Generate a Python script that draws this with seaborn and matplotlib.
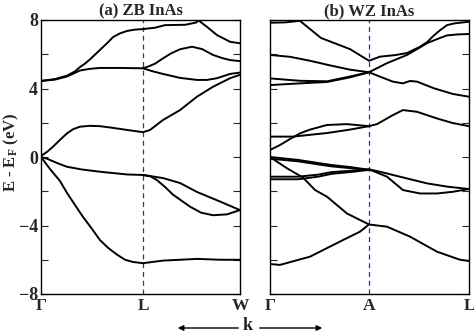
import numpy as np
import pandas as pd
import seaborn as sns
import matplotlib
matplotlib.use("Agg")
import matplotlib.pyplot as plt

sns.set_theme(style="ticks")
plt.rcParams['font.family'] = ['Liberation Serif', 'DejaVu Serif']
plt.rcParams['font.weight'] = 'bold'
plt.rcParams['mathtext.fontset'] = 'custom'
plt.rcParams['mathtext.rm'] = 'Liberation Serif:bold'
plt.rcParams['mathtext.it'] = 'Liberation Serif:bold'

# ---------------- data (k in path units, E in eV) ----------------
# ZB InAs: Gamma=0, L=1, W=1.951
zb_ticks = [0.0, 1.0, 1.951]
zb_labels = ['Γ', 'L', 'W']
zb_b1_k = [0, .137, .255, .333, .382, .431, .480, .578, .657, .706, .775, .843, .922, 1.0, 1.118, 1.216, 1.412, 1.520, 1.569, 1.667]
zb_b1_E = [4.44, 4.55, 4.75, 5.0, 5.25, 5.45, 5.7, 6.25, 6.7, 7.0, 7.22, 7.36, 7.44, 7.47, 7.55, 7.7, 7.72, 7.85, 8.1, 8.6]
zb_b2_k = [1.412, 1.539, 1.627, 1.725, 1.853, 1.951]
zb_b2_E = [8.6, 8.0, 7.6, 7.12, 6.73, 6.64]
zb_b3_k = [0, .137, .255, .382, .480, .578, .775, 1.0, 1.059, 1.118, 1.196, 1.275, 1.363, 1.480, 1.580, 1.686, 1.775, 1.853, 1.951]
zb_b3_E = [4.44, 4.52, 4.7, 5.05, 5.15, 5.2, 5.2, 5.18, 5.3, 5.45, 5.76, 6.05, 6.29, 6.44, 6.3, 5.96, 5.78, 5.66, 5.6]
zb_b4_k = [1.0, 1.098, 1.196, 1.363, 1.529, 1.627, 1.725, 1.853, 1.951]
zb_b4_E = [5.18, 5.0, 4.85, 4.62, 4.5, 4.5, 4.6, 4.85, 4.93]
zb_b5_k = [0, .059, .118, .186, .255, .314, .382, .480, .578, .706, .843, 1.0, 1.069, 1.196, 1.363, 1.529, 1.686, 1.853, 1.951]
zb_b5_E = [0.06, 0.3, 0.6, 1.0, 1.38, 1.62, 1.77, 1.82, 1.8, 1.7, 1.58, 1.45, 1.58, 2.16, 2.74, 3.52, 4.1, 4.6, 4.8]
zb_b6_k = [0, .059, .118, .186, .255, .402, .578, .843, 1.0, 1.196, 1.363, 1.529, 1.755, 1.951]
zb_b6_E = [0, -0.1, -0.25, -0.42, -0.57, -0.73, -0.86, -1.02, -1.05, -1.23, -1.52, -2.04, -2.6, -3.1]
zb_b7_k = [1.0, 1.069, 1.137, 1.216, 1.294, 1.461, 1.569, 1.686, 1.824, 1.951]
zb_b7_E = [-1.05, -1.12, -1.35, -1.75, -2.2, -2.9, -3.25, -3.4, -3.35, -3.1]
zb_b8_k = [0, .088, .186, .255, .333, .412, .500, .578, .657, .745, .824, .902, 1.0, 1.196, 1.529, 1.755, 1.951]
zb_b8_E = [0, -0.7, -1.4, -2.1, -2.8, -3.5, -4.2, -4.85, -5.3, -5.7, -6.0, -6.13, -6.2, -6.05, -5.95, -6.0, -6.0]

# WZ InAs: Gamma=0, A=1, L=2.01
wz_ticks = [0.0, 1.0, 2.01]
wz_labels = ['Γ', 'A', 'L']
wz_b1_k = [0, .152, .303, .515, .808, 1.0, 1.111, 1.263, 1.384, 1.515, 1.586, 1.646, 1.717, 1.788, 1.859, 1.919, 2.01]
wz_b1_E = [7.84, 7.86, 7.95, 6.95, 6.3, 5.62, 5.86, 5.95, 6.07, 6.44, 6.7, 7.05, 7.4, 7.7, 7.8, 7.84, 7.9]
wz_b2_k = [0, .202, .404, .606, .808, 1.0, 1.111, 1.242, 1.343, 1.414, 1.485, 1.657, 1.848, 2.01]
wz_b2_E = [5.96, 5.85, 5.62, 5.35, 5.1, 4.95, 4.69, 4.4, 4.3, 4.44, 4.4, 4.01, 3.68, 3.52]
wz_b3_k = [0, .303, .576, .808, 1.0]
wz_b3_E = [4.59, 4.45, 4.42, 4.7, 4.95]
wz_b4_k = [0, .303, .576, .808, 1.0]
wz_b4_E = [4.2, 4.3, 4.38, 4.65, 4.95]
wz_b5_k = [1.0, 1.182, 1.384, 1.515, 1.586, 1.717, 1.788, 1.90, 2.01]
wz_b5_E = [4.95, 5.48, 5.96, 6.4, 6.65, 6.95, 7.1, 7.16, 7.18]
wz_b6_k = [0, .232, .576, .808, 1.0]
wz_b6_E = [1.19, 1.19, 1.4, 1.6, 1.8]
wz_b7_k = [0, .101, .202, .303, .404, .576, .778, 1.0, 1.081, 1.242, 1.343, 1.485, 1.687, 1.848, 2.01]
wz_b7_E = [0.41, 0.7, 1.05, 1.38, 1.6, 1.87, 1.92, 1.8, 1.92, 2.45, 2.74, 2.64, 2.25, 1.98, 1.8]
wz_b8_k = [0, .283, .485, .626, .828, .990]
wz_b8_E = [0, -0.17, -0.35, -0.47, -0.6, -0.74]
wz_b9_k = [0, .283, .485, .626, .828, .990]
wz_b9_E = [-0.1, -0.25, -0.43, -0.55, -0.66, -0.76]
wz_b10_k = [0, .283, .485, .626, .828, .990]
wz_b10_E = [-1.15, -1.15, -1.03, -0.88, -0.8, -0.72]
wz_b11_k = [0, .283, .485, .626, .828, .990]
wz_b11_E = [-1.3, -1.3, -1.15, -0.98, -0.87, -0.76]
wz_b12_k = [0, .172, .333, .455, .576, .778, 1.0]
wz_b12_E = [0, -0.66, -1.2, -1.93, -2.32, -3.3, -3.94]
wz_b13_k = [0, .101, .404, .737, .909, 1.0, 1.182, 1.414, 1.687, 1.919, 2.01]
wz_b13_E = [-6.25, -6.3, -5.82, -4.85, -4.36, -3.94, -4.07, -4.65, -5.53, -6.0, -6.07]
wz_b14_k = [1.0, 1.111, 1.242, 1.586, 1.788, 2.01]
wz_b14_E = [-0.72, -0.86, -1.05, -1.54, -1.73, -1.87]
wz_b15_k = [1.0, 1.182, 1.343, 1.515, 1.687, 1.848, 2.01]
wz_b15_E = [-0.72, -1.15, -1.93, -2.13, -2.13, -2.03, -1.87]

zb_bands = [(zb_b1_k, zb_b1_E), (zb_b2_k, zb_b2_E), (zb_b3_k, zb_b3_E), (zb_b4_k, zb_b4_E),
            (zb_b5_k, zb_b5_E), (zb_b6_k, zb_b6_E), (zb_b7_k, zb_b7_E), (zb_b8_k, zb_b8_E)]
wz_bands = [(wz_b1_k, wz_b1_E), (wz_b2_k, wz_b2_E), (wz_b3_k, wz_b3_E), (wz_b4_k, wz_b4_E),
            (wz_b5_k, wz_b5_E), (wz_b6_k, wz_b6_E), (wz_b7_k, wz_b7_E), (wz_b8_k, wz_b8_E),
            (wz_b9_k, wz_b9_E), (wz_b10_k, wz_b10_E), (wz_b11_k, wz_b11_E), (wz_b12_k, wz_b12_E),
            (wz_b13_k, wz_b13_E), (wz_b14_k, wz_b14_E), (wz_b15_k, wz_b15_E)]


def to_df(bands):
    rows = []
    for i, (ks, es) in enumerate(bands):
        for j, (k, e) in enumerate(zip(ks, es)):
            rows.append({'band': i, 'order': j, 'k': k, 'E': e})
    return pd.DataFrame(rows)


W, H = 474, 335
fig = plt.figure(figsize=(W / 100, H / 100), dpi=100)
ax1 = fig.add_axes([41 / W, 1 - 294 / H, 199 / W, 274 / H])
ax2 = fig.add_axes([270 / W, 1 - 294 / H, 199 / W, 274 / H])

panels = [(ax1, zb_bands, zb_ticks, zb_labels, '(a) ZB InAs'),
          (ax2, wz_bands, wz_ticks, wz_labels, '(b) WZ InAs')]

for ax, bands, ticks, labels, title in panels:
    df = to_df(bands)
    sns.lineplot(data=df, x='k', y='E', units='band', estimator=None, sort=False,
                 color='black', lw=1.4, ax=ax, legend=False)
    ax.axvline(ticks[1], color='#2a2ad8', ls=(0, (4, 3)), lw=0.9, zorder=0)
    ax.set_xlim(ticks[0], ticks[-1])
    ax.set_ylim(-8, 8)
    ax.set_xticks(ticks)
    ax.set_xticklabels(labels, fontsize=12.5, fontweight='bold')
    ax.tick_params(axis='x', length=0, pad=3)
    ax.set_yticks([-8, -4, 0, 4, 8])
    ax.set_yticks([-6, -2, 2, 6], minor=True)
    ax.tick_params(axis='y', which='both', direction='in', left=True, right=True,
                   length=5, width=0.8, labelsize=13, pad=2)
    ax.set_xlabel('')
    ax.set_ylabel('')
    ax.set_title(title, fontsize=12, fontweight='bold', pad=3)
    for s in ax.spines.values():
        s.set_linewidth(1.0)
        s.set_color('black')

ax2.tick_params(axis='y', labelleft=False)
for lab in ax1.get_yticklabels():
    lab.set_fontweight('bold')

fig.text(11 / W, 1 - 152 / H, r'E - E$_\mathrm{F}$ (eV)', rotation=90, ha='center', va='center',
         fontsize=12, fontweight='bold')
fig.text(248 / W, 1 - 326 / H, 'k', ha='center', va='center', fontsize=13, fontweight='bold')
fig.add_artist(matplotlib.patches.FancyArrowPatch((241 / W, 1 - 328 / H), (175 / W, 1 - 328 / H),
               transform=fig.transFigure, arrowstyle='-|>', mutation_scale=8, color='black', lw=1))
fig.add_artist(matplotlib.patches.FancyArrowPatch((257 / W, 1 - 328 / H), (325 / W, 1 - 328 / H),
               transform=fig.transFigure, arrowstyle='-|>', mutation_scale=8, color='black', lw=1))

fig.savefig('out.png', dpi=100)
